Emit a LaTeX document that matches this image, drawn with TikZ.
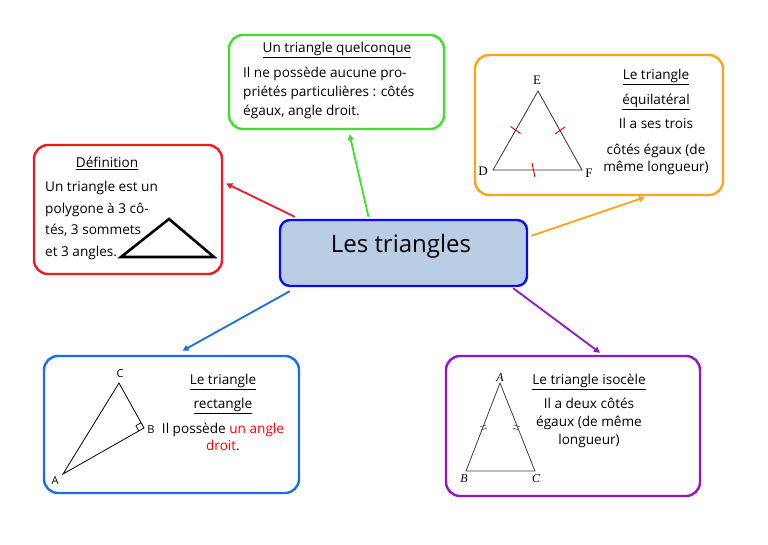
\documentclass[tikz,border=0pt]{standalone}
\usepackage{fontspec}
\setmainfont{Open Sans}
\newfontfamily\serifl{Liberation Serif}
\usetikzlibrary{arrows.meta,calc}
\definecolor{cred}{RGB}{236,28,36}
\definecolor{cgreen}{RGB}{60,225,40}
\definecolor{corange}{RGB}{255,163,26}
\definecolor{cblue}{RGB}{25,110,240}
\definecolor{cpurple}{RGB}{150,20,200}
\definecolor{cfill}{RGB}{185,205,229}
\definecolor{cborder}{RGB}{10,10,245}
\begin{document}
\begin{tikzpicture}[x=1pt,y=-1pt,
  box/.style={draw, rounded corners=14pt, line width=2.4pt, inner sep=0pt},
  conn/.style={line width=1.8pt, -{Triangle[length=6pt,width=6pt]}},
  tx/.style={font=\fontsize{13.6}{16}\selectfont, inner sep=0pt, anchor=base},
  txl/.style={tx, anchor=base west},
  ttl/.style={tx},
  lab/.style={font=\fontsize{11}{13}\selectfont, inner sep=0pt},
  slab/.style={font=\serifl\fontsize{13}{15}\selectfont, inner sep=0pt},
  ilab/.style={font=\serifl\itshape\fontsize{12}{14}\selectfont, inner sep=0pt}]
\useasboundingbox (0,0) rectangle (768,544);
\fill[white] (0,0) rectangle (768,544);

% boxes
\node[box, draw=cred, minimum width=188pt, minimum height=129pt] (def) at (128,209.5) {};
\node[box, draw=cgreen, minimum width=215pt, minimum height=94pt] (quel) at (336.5,82) {};
\node[box, draw=corange, minimum width=248pt, minimum height=140pt] (equi) at (599,125) {};
\node[box, draw=cblue, minimum width=255pt, minimum height=137pt] (rect) at (171.5,424.5) {};
\node[box, draw=cpurple, minimum width=254pt, minimum height=140pt] (iso) at (573,426) {};
\node[box, draw=cborder, fill=cfill, rounded corners=10pt, minimum width=247pt, minimum height=66pt] (cen) at (403.5,253) {};

% connectors
\draw[conn, cred] ($(cen.north west)+(16,-2)$) -- ($(def.east)+(3,-26)$);
\draw[conn, cgreen] ($(cen.north)+(-35,-2)$) -- ($(quel.south)+(13,4)$);
\draw[conn, corange] ($(cen.north east)+(3,17)$) -- ($(equi.south)+(46,1)$);
\draw[conn, cblue] ($(cen.south west)+(11,4)$) -- ($(rect.north)+(11,-4)$);
\draw[conn, cpurple] ($(cen.south east)+(-15,1)$) -- ($(iso.north)+(27,-2)$);

% central text
\node[tx, font=\fontsize{24}{28}\selectfont] (ctitle) at (401,252) {Les triangles};

% definition
\node[ttl] (t1) at (107,167.5) {\underline{Définition}};
\node[txl] (d1) at (45,191.5) {Un triangle est un};
\node[txl] (d2) at (45,213.5) {polygone à 3 cô-};
\node[txl] (d3) at (45,234.5) {tés, 3 sommets};
\node[txl] (d4) at (45,256.5) {et 3 angles.};
\draw[line width=2.6pt, line join=miter] (121,257) -- (214,257) -- (169,219) -- cycle;

% quelconque
\node[ttl] (t2) at (337,52.5) {\underline{Un triangle quelconque}};
\node[txl] (q1) at (243,77.5) {Il ne possède aucune pro-};
\node[txl] (q2) at (243,96.5) {priétés particulières : côtés};
\node[txl] (q3) at (243,115.5) {égaux, angle droit.};

% equilateral
\node[ttl] (t3) at (656,79.5) {\underline{Le triangle}};
\node[ttl] (t3b) at (656,104.5) {\underline{équilatéral}};
\node[tx] (e1) at (656,128.5) {Il a ses trois};
\node[tx] (e2) at (656,154.5) {côtés égaux (de};
\node[tx] (e3) at (656,171.5) {même longueur)};
\draw[line width=0.8pt, black!80] (493,170) -- (582,170) -- (538,91) -- cycle;
\draw[line width=0.9pt, red!85!black] (510.5,126.5) -- (520.5,133.5);
\draw[line width=0.9pt, red!85!black] (555,134) -- (565,127);
\draw[line width=0.9pt, red!85!black] (532,163) -- (535,177);
\node[slab] (lE) at (537,80) {E};
\node[slab] (lD) at (483,171) {D};
\node[slab] (lF) at (589,173) {F};

% rectangle
\node[ttl] (t4) at (223,384.5) {\underline{Le triangle}};
\node[ttl] (t4b) at (223,408.5) {\underline{rectangle}};
\node[tx] (r1) at (223,433.5) {Il possède \textcolor{red}{un angle}};
\node[tx] (r2) at (223,450.5) {\textcolor{red}{droit}.};
\draw[line width=0.8pt] (63,474) -- (119,383) -- (144,428) -- cycle;
\draw[line width=0.7pt] (141.1,422.8) -- (135.9,425.7) -- (138.8,431);
\node[lab] (lC) at (120,374) {C};
\node[lab] (lB) at (151,430) {B};
\node[lab] (lA) at (55,481) {A};

% isocele
\node[ttl] (t5) at (589,384.5) {\underline{Le triangle isocèle}};
\node[tx] (i1) at (589,408.5) {Il a deux côtés};
\node[tx] (i2) at (589,426.5) {égaux (de même};
\node[tx] (i3) at (589,444.5) {longueur)};
\draw[line width=0.8pt, black!75] (466,471) -- (535,471) -- (500,383) -- cycle;
\draw[line width=0.6pt, black!75] (480,427) -- (486,425) (481,430) -- (487,428);
\draw[line width=0.6pt, black!75] (514,425) -- (520,427) (513,428) -- (519,430);
\node[ilab] (iA) at (500,378) {A};
\node[ilab] (iB) at (464,479) {B};
\node[ilab] (iC) at (536,479) {C};
\end{tikzpicture}
\end{document}
